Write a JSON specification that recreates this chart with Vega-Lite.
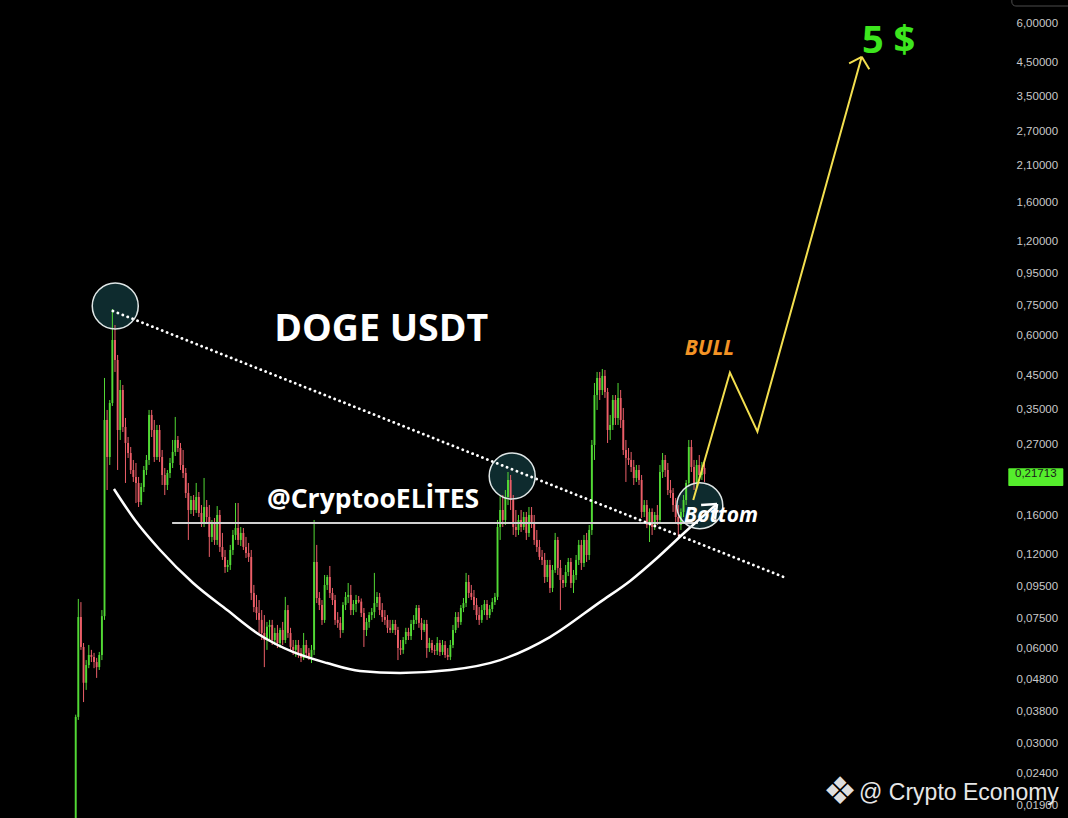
{
"$schema":"https://vega.github.io/schema/vega-lite/v6.json",
"width":1005,"height":818,
"autosize":{"type":"none"},
"padding":{"left":0,"top":0,"right":63,"bottom":0},
"background":"#000000",
"config":{"view":{"stroke":null}},
"resolve":{"axis":{"y":"independent","x":"independent"}},
"datasets":{
"candles":[
{"i":0,"o":0.0078,"h":0.037,"l":0.0072,"c":0.0364},
{"i":1,"o":0.0364,"h":0.0867,"l":0.0356,"c":0.0759},
{"i":2,"o":0.0759,"h":0.0847,"l":0.0596,"c":0.0609},
{"i":3,"o":0.0609,"h":0.0627,"l":0.0406,"c":0.0468},
{"i":4,"o":0.0468,"h":0.0553,"l":0.0444,"c":0.0533},
{"i":5,"o":0.0533,"h":0.0618,"l":0.0521,"c":0.0574},
{"i":6,"o":0.0574,"h":0.0596,"l":0.0545,"c":0.0566},
{"i":7,"o":0.0566,"h":0.0583,"l":0.0521,"c":0.0545},
{"i":8,"o":0.0545,"h":0.0562,"l":0.0485,"c":0.0525},
{"i":9,"o":0.0525,"h":0.0587,"l":0.0514,"c":0.0574},
{"i":10,"o":0.0574,"h":0.0799,"l":0.0553,"c":0.0764},
{"i":11,"o":0.0764,"h":0.4406,"l":0.0743,"c":0.3235},
{"i":12,"o":0.3235,"h":0.3482,"l":0.1932,"c":0.2464},
{"i":13,"o":0.2464,"h":0.3747,"l":0.2323,"c":0.3665},
{"i":14,"o":0.3665,"h":0.7318,"l":0.3585,"c":0.5826},
{"i":15,"o":0.5826,"h":0.6506,"l":0.4605,"c":0.5029},
{"i":16,"o":0.5029,"h":0.5218,"l":0.2239,"c":0.3005},
{"i":17,"o":0.3005,"h":0.4341,"l":0.2792,"c":0.4033},
{"i":18,"o":0.4033,"h":0.4184,"l":0.2961,"c":0.3073},
{"i":19,"o":0.3073,"h":0.3283,"l":0.2035,"c":0.2731},
{"i":20,"o":0.2731,"h":0.2854,"l":0.2446,"c":0.2537},
{"i":21,"o":0.2537,"h":0.2652,"l":0.2174,"c":0.2239},
{"i":22,"o":0.2239,"h":0.241,"l":0.205,"c":0.2127},
{"i":23,"o":0.2127,"h":0.2357,"l":0.1756,"c":0.2035},
{"i":24,"o":0.2035,"h":0.2127,"l":0.1705,"c":0.1769},
{"i":25,"o":0.1769,"h":0.2035,"l":0.173,"c":0.1976},
{"i":26,"o":0.1976,"h":0.2306,"l":0.1904,"c":0.2239},
{"i":27,"o":0.2239,"h":0.25,"l":0.2158,"c":0.241},
{"i":28,"o":0.241,"h":0.3482,"l":0.2323,"c":0.3356},
{"i":29,"o":0.3356,"h":0.3482,"l":0.2854,"c":0.3005},
{"i":30,"o":0.3005,"h":0.3235,"l":0.2375,"c":0.2464},
{"i":31,"o":0.2464,"h":0.3118,"l":0.241,"c":0.3005},
{"i":32,"o":0.3005,"h":0.3118,"l":0.2375,"c":0.2464},
{"i":33,"o":0.2464,"h":0.2594,"l":0.2005,"c":0.2158},
{"i":34,"o":0.2158,"h":0.2272,"l":0.1862,"c":0.2005},
{"i":35,"o":0.2005,"h":0.2239,"l":0.1932,"c":0.219},
{"i":36,"o":0.219,"h":0.2446,"l":0.2111,"c":0.2357},
{"i":37,"o":0.2357,"h":0.2792,"l":0.2272,"c":0.2556},
{"i":38,"o":0.2556,"h":0.3307,"l":0.2482,"c":0.2792},
{"i":39,"o":0.2792,"h":0.2875,"l":0.2556,"c":0.2632},
{"i":40,"o":0.2632,"h":0.2731,"l":0.2239,"c":0.2323},
{"i":41,"o":0.2323,"h":0.2594,"l":0.2111,"c":0.219},
{"i":42,"o":0.219,"h":0.2272,"l":0.1822,"c":0.189},
{"i":43,"o":0.189,"h":0.2035,"l":0.1338,"c":0.1668},
{"i":44,"o":0.1668,"h":0.1849,"l":0.162,"c":0.1795},
{"i":45,"o":0.1795,"h":0.1862,"l":0.1596,"c":0.1668},
{"i":46,"o":0.1668,"h":0.2035,"l":0.1632,"c":0.1835},
{"i":47,"o":0.1835,"h":0.1904,"l":0.1584,"c":0.1632},
{"i":48,"o":0.1632,"h":0.173,"l":0.1472,"c":0.1516},
{"i":49,"o":0.1516,"h":0.2111,"l":0.1472,"c":0.1705},
{"i":50,"o":0.1705,"h":0.1795,"l":0.1527,"c":0.1584},
{"i":51,"o":0.1584,"h":0.173,"l":0.1181,"c":0.1368},
{"i":52,"o":0.1368,"h":0.155,"l":0.1318,"c":0.1516},
{"i":53,"o":0.1516,"h":0.1573,"l":0.129,"c":0.1338},
{"i":54,"o":0.1338,"h":0.1717,"l":0.129,"c":0.1608},
{"i":55,"o":0.1608,"h":0.1668,"l":0.1225,"c":0.1271},
{"i":56,"o":0.1271,"h":0.1409,"l":0.1155,"c":0.1181},
{"i":57,"o":0.1181,"h":0.1243,"l":0.105,"c":0.1097},
{"i":58,"o":0.1097,"h":0.1155,"l":0.1057,"c":0.1113},
{"i":59,"o":0.1113,"h":0.129,"l":0.1073,"c":0.1243},
{"i":60,"o":0.1243,"h":0.144,"l":0.1198,"c":0.1388},
{"i":61,"o":0.1388,"h":0.1756,"l":0.1338,"c":0.1461},
{"i":62,"o":0.1461,"h":0.1756,"l":0.129,"c":0.1338},
{"i":63,"o":0.1338,"h":0.1472,"l":0.128,"c":0.1409},
{"i":64,"o":0.1409,"h":0.1461,"l":0.1243,"c":0.1271},
{"i":65,"o":0.1271,"h":0.1368,"l":0.1172,"c":0.1216},
{"i":66,"o":0.1216,"h":0.1309,"l":0.1138,"c":0.1181},
{"i":67,"o":0.1181,"h":0.1243,"l":0.086,"c":0.0906},
{"i":68,"o":0.0906,"h":0.0961,"l":0.0787,"c":0.0817},
{"i":69,"o":0.0817,"h":0.0893,"l":0.0743,"c":0.0782},
{"i":70,"o":0.0782,"h":0.086,"l":0.0675,"c":0.0743},
{"i":71,"o":0.0743,"h":0.0799,"l":0.0641,"c":0.0675},
{"i":72,"o":0.0675,"h":0.077,"l":0.0525,"c":0.0641},
{"i":73,"o":0.0641,"h":0.0732,"l":0.0596,"c":0.0706},
{"i":74,"o":0.0706,"h":0.0743,"l":0.0641,"c":0.0716},
{"i":75,"o":0.0716,"h":0.0743,"l":0.0618,"c":0.0641},
{"i":76,"o":0.0641,"h":0.0701,"l":0.0618,"c":0.0675},
{"i":77,"o":0.0675,"h":0.0716,"l":0.0604,"c":0.0627},
{"i":78,"o":0.0627,"h":0.0701,"l":0.0604,"c":0.069},
{"i":79,"o":0.069,"h":0.0732,"l":0.0618,"c":0.0641},
{"i":80,"o":0.0641,"h":0.088,"l":0.0627,"c":0.0799},
{"i":81,"o":0.0799,"h":0.0829,"l":0.0651,"c":0.0675},
{"i":82,"o":0.0675,"h":0.0701,"l":0.0587,"c":0.0609},
{"i":83,"o":0.0609,"h":0.0641,"l":0.0574,"c":0.0596},
{"i":84,"o":0.0596,"h":0.0641,"l":0.0566,"c":0.0618},
{"i":85,"o":0.0618,"h":0.0641,"l":0.0562,"c":0.0583},
{"i":86,"o":0.0583,"h":0.0604,"l":0.0545,"c":0.0562},
{"i":87,"o":0.0562,"h":0.0675,"l":0.0553,"c":0.0618},
{"i":88,"o":0.0618,"h":0.0641,"l":0.0566,"c":0.0583},
{"i":89,"o":0.0583,"h":0.0604,"l":0.0553,"c":0.0566},
{"i":90,"o":0.0566,"h":0.0618,"l":0.0541,"c":0.0596},
{"i":91,"o":0.0596,"h":0.155,"l":0.0574,"c":0.1138},
{"i":92,"o":0.1138,"h":0.129,"l":0.0841,"c":0.0873},
{"i":93,"o":0.0873,"h":0.0912,"l":0.0799,"c":0.0829},
{"i":94,"o":0.0829,"h":0.086,"l":0.0716,"c":0.0743},
{"i":95,"o":0.0743,"h":0.1034,"l":0.0727,"c":0.0961},
{"i":96,"o":0.0961,"h":0.1034,"l":0.0926,"c":0.1019},
{"i":97,"o":0.1019,"h":0.1105,"l":0.0873,"c":0.0906},
{"i":98,"o":0.0906,"h":0.094,"l":0.0829,"c":0.086},
{"i":99,"o":0.086,"h":0.0893,"l":0.0716,"c":0.0743},
{"i":100,"o":0.0743,"h":0.0787,"l":0.0701,"c":0.0727},
{"i":101,"o":0.0727,"h":0.0759,"l":0.0651,"c":0.069},
{"i":102,"o":0.069,"h":0.0847,"l":0.0675,"c":0.0829},
{"i":103,"o":0.0829,"h":0.0912,"l":0.0799,"c":0.088},
{"i":104,"o":0.088,"h":0.0975,"l":0.0841,"c":0.0893},
{"i":105,"o":0.0893,"h":0.0961,"l":0.077,"c":0.0799},
{"i":106,"o":0.0799,"h":0.086,"l":0.077,"c":0.0835},
{"i":107,"o":0.0835,"h":0.0893,"l":0.0787,"c":0.086},
{"i":108,"o":0.086,"h":0.0886,"l":0.084,"c":0.085},
{"i":109,"o":0.085,"h":0.087,"l":0.0759,"c":0.0782},
{"i":110,"o":0.0782,"h":0.0811,"l":0.0609,"c":0.069},
{"i":111,"o":0.069,"h":0.0753,"l":0.066,"c":0.0732},
{"i":112,"o":0.0732,"h":0.0787,"l":0.0701,"c":0.077},
{"i":113,"o":0.077,"h":0.0811,"l":0.0743,"c":0.0787},
{"i":114,"o":0.0787,"h":0.105,"l":0.0753,"c":0.0841},
{"i":115,"o":0.0841,"h":0.0912,"l":0.0817,"c":0.088},
{"i":116,"o":0.088,"h":0.0906,"l":0.077,"c":0.0799},
{"i":117,"o":0.0799,"h":0.0841,"l":0.0732,"c":0.0759},
{"i":118,"o":0.0759,"h":0.0799,"l":0.0716,"c":0.0743},
{"i":119,"o":0.0743,"h":0.077,"l":0.0675,"c":0.0701},
{"i":120,"o":0.0701,"h":0.0743,"l":0.0675,"c":0.069},
{"i":121,"o":0.069,"h":0.0743,"l":0.0675,"c":0.0721},
{"i":122,"o":0.0721,"h":0.0743,"l":0.0665,"c":0.069},
{"i":123,"o":0.069,"h":0.0706,"l":0.0553,"c":0.0604},
{"i":124,"o":0.0604,"h":0.0641,"l":0.0574,"c":0.0596},
{"i":125,"o":0.0596,"h":0.0655,"l":0.0579,"c":0.0641},
{"i":126,"o":0.0641,"h":0.0701,"l":0.0622,"c":0.068},
{"i":127,"o":0.068,"h":0.0701,"l":0.0641,"c":0.066},
{"i":128,"o":0.066,"h":0.0743,"l":0.0641,"c":0.0721},
{"i":129,"o":0.0721,"h":0.077,"l":0.069,"c":0.0743},
{"i":130,"o":0.0743,"h":0.0829,"l":0.0721,"c":0.0811},
{"i":131,"o":0.0811,"h":0.0829,"l":0.0701,"c":0.0727},
{"i":132,"o":0.0727,"h":0.0753,"l":0.0641,"c":0.069},
{"i":133,"o":0.069,"h":0.0743,"l":0.068,"c":0.0721},
{"i":134,"o":0.0721,"h":0.0743,"l":0.0562,"c":0.0604},
{"i":135,"o":0.0604,"h":0.0651,"l":0.0587,"c":0.0627},
{"i":136,"o":0.0627,"h":0.0641,"l":0.0583,"c":0.0596},
{"i":137,"o":0.0596,"h":0.0618,"l":0.0574,"c":0.0592},
{"i":138,"o":0.0592,"h":0.0655,"l":0.0574,"c":0.0627},
{"i":139,"o":0.0627,"h":0.0641,"l":0.057,"c":0.0587},
{"i":140,"o":0.0587,"h":0.0641,"l":0.0574,"c":0.0618},
{"i":141,"o":0.0618,"h":0.0636,"l":0.0562,"c":0.0574},
{"i":142,"o":0.0574,"h":0.0604,"l":0.0553,"c":0.0566},
{"i":143,"o":0.0566,"h":0.0641,"l":0.0553,"c":0.0618},
{"i":144,"o":0.0618,"h":0.0716,"l":0.0604,"c":0.069},
{"i":145,"o":0.069,"h":0.0787,"l":0.0675,"c":0.0759},
{"i":146,"o":0.0759,"h":0.0787,"l":0.0701,"c":0.0732},
{"i":147,"o":0.0732,"h":0.0829,"l":0.0716,"c":0.0811},
{"i":148,"o":0.0811,"h":0.0873,"l":0.0787,"c":0.0841},
{"i":149,"o":0.0841,"h":0.105,"l":0.0817,"c":0.0982},
{"i":150,"o":0.0982,"h":0.1034,"l":0.0873,"c":0.0906},
{"i":151,"o":0.0906,"h":0.0961,"l":0.086,"c":0.088},
{"i":152,"o":0.088,"h":0.0926,"l":0.0799,"c":0.0829},
{"i":153,"o":0.0829,"h":0.0873,"l":0.0743,"c":0.077},
{"i":154,"o":0.077,"h":0.0817,"l":0.0716,"c":0.0743},
{"i":155,"o":0.0743,"h":0.0829,"l":0.0727,"c":0.0799},
{"i":156,"o":0.0799,"h":0.086,"l":0.077,"c":0.0835},
{"i":157,"o":0.0835,"h":0.086,"l":0.0743,"c":0.077},
{"i":158,"o":0.077,"h":0.0829,"l":0.0753,"c":0.0805},
{"i":159,"o":0.0805,"h":0.0873,"l":0.0787,"c":0.0847},
{"i":160,"o":0.0847,"h":0.0906,"l":0.0829,"c":0.088},
{"i":161,"o":0.088,"h":0.155,"l":0.086,"c":0.1472},
{"i":162,"o":0.1472,"h":0.1862,"l":0.1338,"c":0.1668},
{"i":163,"o":0.1668,"h":0.1862,"l":0.1472,"c":0.155},
{"i":164,"o":0.155,"h":0.1932,"l":0.1494,"c":0.1835},
{"i":165,"o":0.1835,"h":0.2206,"l":0.173,"c":0.208},
{"i":166,"o":0.208,"h":0.2158,"l":0.1668,"c":0.1795},
{"i":167,"o":0.1795,"h":0.1862,"l":0.1388,"c":0.1472},
{"i":168,"o":0.1472,"h":0.1668,"l":0.1368,"c":0.144},
{"i":169,"o":0.144,"h":0.1608,"l":0.1388,"c":0.155},
{"i":170,"o":0.155,"h":0.1668,"l":0.1419,"c":0.1472},
{"i":171,"o":0.1472,"h":0.1644,"l":0.144,"c":0.1584},
{"i":172,"o":0.1584,"h":0.1644,"l":0.1338,"c":0.1409},
{"i":173,"o":0.1409,"h":0.1705,"l":0.1368,"c":0.1608},
{"i":174,"o":0.1608,"h":0.1705,"l":0.1461,"c":0.1527},
{"i":175,"o":0.1527,"h":0.1608,"l":0.129,"c":0.1338},
{"i":176,"o":0.1338,"h":0.144,"l":0.1225,"c":0.1271},
{"i":177,"o":0.1271,"h":0.1338,"l":0.1155,"c":0.1181},
{"i":178,"o":0.1181,"h":0.1243,"l":0.1113,"c":0.1155},
{"i":179,"o":0.1155,"h":0.1216,"l":0.0975,"c":0.1019},
{"i":180,"o":0.1019,"h":0.1155,"l":0.0982,"c":0.1113},
{"i":181,"o":0.1113,"h":0.1155,"l":0.0906,"c":0.094},
{"i":182,"o":0.094,"h":0.1113,"l":0.0912,"c":0.1073},
{"i":183,"o":0.1073,"h":0.1409,"l":0.105,"c":0.1338},
{"i":184,"o":0.1338,"h":0.1368,"l":0.1034,"c":0.1089},
{"i":185,"o":0.1089,"h":0.1155,"l":0.0799,"c":0.0997},
{"i":186,"o":0.0997,"h":0.1034,"l":0.094,"c":0.0975},
{"i":187,"o":0.0975,"h":0.1113,"l":0.0947,"c":0.1057},
{"i":188,"o":0.1057,"h":0.1172,"l":0.1026,"c":0.1138},
{"i":189,"o":0.1138,"h":0.1172,"l":0.094,"c":0.0975},
{"i":190,"o":0.0975,"h":0.1073,"l":0.0906,"c":0.1034},
{"i":191,"o":0.1034,"h":0.1198,"l":0.0997,"c":0.1155},
{"i":192,"o":0.1155,"h":0.1338,"l":0.1113,"c":0.129},
{"i":193,"o":0.129,"h":0.1338,"l":0.1073,"c":0.113},
{"i":194,"o":0.113,"h":0.1388,"l":0.1097,"c":0.1338},
{"i":195,"o":0.1338,"h":0.1409,"l":0.1138,"c":0.1198},
{"i":196,"o":0.1198,"h":0.1494,"l":0.1155,"c":0.144},
{"i":197,"o":0.144,"h":0.2792,"l":0.1388,"c":0.2691},
{"i":198,"o":0.2691,"h":0.4246,"l":0.241,"c":0.3886},
{"i":199,"o":0.3886,"h":0.4605,"l":0.3482,"c":0.4406},
{"i":200,"o":0.4406,"h":0.4605,"l":0.3747,"c":0.4033},
{"i":201,"o":0.4033,"h":0.4707,"l":0.3886,"c":0.4473},
{"i":202,"o":0.4473,"h":0.4673,"l":0.3805,"c":0.3974},
{"i":203,"o":0.3974,"h":0.4093,"l":0.2731,"c":0.3005},
{"i":204,"o":0.3005,"h":0.3356,"l":0.2792,"c":0.3118},
{"i":205,"o":0.3118,"h":0.3886,"l":0.3005,"c":0.3747},
{"i":206,"o":0.3747,"h":0.3886,"l":0.3118,"c":0.3283},
{"i":207,"o":0.3283,"h":0.4246,"l":0.3118,"c":0.3802},
{"i":208,"o":0.3802,"h":0.4033,"l":0.305,"c":0.3235},
{"i":209,"o":0.3235,"h":0.3533,"l":0.25,"c":0.2594},
{"i":210,"o":0.2594,"h":0.2792,"l":0.205,"c":0.2446},
{"i":211,"o":0.2446,"h":0.2632,"l":0.2323,"c":0.241},
{"i":212,"o":0.241,"h":0.2556,"l":0.2206,"c":0.2289},
{"i":213,"o":0.2289,"h":0.241,"l":0.2005,"c":0.2111},
{"i":214,"o":0.2111,"h":0.2323,"l":0.205,"c":0.2239},
{"i":215,"o":0.2239,"h":0.2323,"l":0.2005,"c":0.208},
{"i":216,"o":0.208,"h":0.2158,"l":0.1573,"c":0.1644},
{"i":217,"o":0.1644,"h":0.1795,"l":0.1584,"c":0.173},
{"i":218,"o":0.173,"h":0.1795,"l":0.146,"c":0.1494},
{"i":219,"o":0.1494,"h":0.1688,"l":0.1318,"c":0.1644},
{"i":220,"o":0.1644,"h":0.1688,"l":0.1388,"c":0.1472},
{"i":221,"o":0.1472,"h":0.1644,"l":0.144,"c":0.1608},
{"i":222,"o":0.1608,"h":0.173,"l":0.1494,"c":0.155},
{"i":223,"o":0.155,"h":0.2323,"l":0.1516,"c":0.2206},
{"i":224,"o":0.2206,"h":0.2537,"l":0.2111,"c":0.241},
{"i":225,"o":0.241,"h":0.25,"l":0.2127,"c":0.2239},
{"i":226,"o":0.2239,"h":0.2357,"l":0.1862,"c":0.1932},
{"i":227,"o":0.1932,"h":0.208,"l":0.1822,"c":0.189},
{"i":228,"o":0.189,"h":0.1961,"l":0.1644,"c":0.173},
{"i":229,"o":0.173,"h":0.1822,"l":0.1527,"c":0.1584},
{"i":230,"o":0.1584,"h":0.173,"l":0.1368,"c":0.1494},
{"i":231,"o":0.1494,"h":0.1688,"l":0.144,"c":0.1644},
{"i":232,"o":0.1644,"h":0.1862,"l":0.1584,"c":0.1795},
{"i":233,"o":0.1795,"h":0.208,"l":0.173,"c":0.2035},
{"i":234,"o":0.2035,"h":0.2792,"l":0.1976,"c":0.2652},
{"i":235,"o":0.2652,"h":0.2792,"l":0.2206,"c":0.2289},
{"i":236,"o":0.2289,"h":0.241,"l":0.1932,"c":0.2035},
{"i":237,"o":0.2035,"h":0.241,"l":0.1961,"c":0.2323},
{"i":238,"o":0.2323,"h":0.25,"l":0.2111,"c":0.2158},
{"i":239,"o":0.2158,"h":0.2375,"l":0.208,"c":0.2272},
{"i":240,"o":0.2272,"h":0.2357,"l":0.205,"c":0.21713}
],
"hline":[{"i":36.8,"v":0.1516},{"i":237.5,"v":0.1516}],
"trend":[{"i":14.2,"v":0.7212},{"i":271.1,"v":0.1012}],
"cup":[{"i":14.6,"v":0.1947},{"i":22.6,"v":0.155},{"i":32.2,"v":0.1243},{"i":44.8,"v":0.0975},{"i":57.8,"v":0.0799},{"i":70.3,"v":0.0665},{"i":82.9,"v":0.0587},{"i":95.9,"v":0.0541},{"i":108.5,"v":0.051},{"i":123.8,"v":0.0503},{"i":142.9,"v":0.0514},{"i":162,"v":0.0553},{"i":181,"v":0.0655},{"i":200.1,"v":0.0847},{"i":211.6,"v":0.099},{"i":221.9,"v":0.1172},{"i":232.6,"v":0.1419},{"i":244.8,"v":0.1743}],
"cuparrow":[{"g":1,"i":238.7,"v":0.173},{"g":1,"i":244.8,"v":0.1743},{"g":2,"i":244.0,"v":0.1561},{"g":2,"i":244.8,"v":0.1743}],
"circles":[{"i":15.1,"v":0.748},{"i":166.6,"v":0.2142},{"i":238.2,"v":0.1721}],
"yellow":[{"i":235.7,"v":0.1795},{"i":249.7,"v":0.4585},{"i":260.2,"v":0.2967},{"i":300.0,"v":4.68}],
"yarrow":[{"g":1,"i":295.2,"v":4.46},{"g":1,"i":300.0,"v":4.68},{"g":2,"i":302.9,"v":4.27},{"g":2,"i":300.0,"v":4.68}]
},
"layer":[
{"data":{"name":"circles"},"mark":{"type":"point","shape":"circle","filled":true,"size":2116,"opacity":1,"strokeWidth":0},
 "encoding":{"x":{"field":"i","type":"quantitative","scale":{"domain":[-28.89,354.69],"nice":false,"zero":false},"axis":null},
 "y":{"field":"v","type":"quantitative","scale":{"type":"log","domain":[0.017302,7.107],"nice":false},
   "axis":{"orient":"right","values":[6,4.5,3.5,2.7,2.1,1.6,1.2,0.95,0.75,0.6,0.45,0.35,0.27,0.16,0.12,0.095,0.075,0.06,0.048,0.038,0.03,0.024,0.019],
   "labelExpr":"replace(format(datum.value,'.5f'),'.',',')","domain":false,"ticks":false,"grid":false,"labelPadding":11,
   "labelFont":"Liberation Sans","labelFontSize":11.5,"labelColor":"#c9c9c9","title":null,"labelAlign":"left","labelBaseline":"middle","labelOverlap":false,"labelBound":false}},
 "color":{"value":"#0e2b2e"}}},
{"data":{"name":"candles"},"mark":{"type":"rule","strokeWidth":1},
 "encoding":{"x":{"field":"i","type":"quantitative","axis":null},"y":{"field":"l","type":"quantitative","axis":null},"y2":{"field":"h"},
 "color":{"condition":{"test":"datum.c >= datum.o","value":"#52d935"},"value":"#eb5e68"}}},
{"data":{"name":"candles"},"mark":{"type":"rule","strokeWidth":1.9},
 "encoding":{"x":{"field":"i","type":"quantitative","axis":null},"y":{"field":"o","type":"quantitative","axis":null},"y2":{"field":"c"},
 "color":{"condition":{"test":"datum.c >= datum.o","value":"#52d935"},"value":"#eb5e68"}}},
{"data":{"name":"hline"},"mark":{"type":"line","color":"#d0d0d0","strokeWidth":2},
 "encoding":{"x":{"field":"i","type":"quantitative","axis":null},"y":{"field":"v","type":"quantitative","axis":null}}},
{"data":{"name":"trend"},"mark":{"type":"line","color":"#ffffff","strokeWidth":2.8,"strokeDash":[0.1,5.2],"strokeCap":"round"},
 "encoding":{"x":{"field":"i","type":"quantitative","axis":null},"y":{"field":"v","type":"quantitative","axis":null}}},
{"data":{"name":"cup"},"mark":{"type":"line","color":"#ffffff","strokeWidth":2.5,"interpolate":"monotone"},
 "encoding":{"x":{"field":"i","type":"quantitative","axis":null},"y":{"field":"v","type":"quantitative","axis":null}}},
{"data":{"name":"cuparrow"},"mark":{"type":"line","color":"#ffffff","strokeWidth":2.5},
 "encoding":{"x":{"field":"i","type":"quantitative","axis":null},"y":{"field":"v","type":"quantitative","axis":null},"detail":{"field":"g"}}},
{"data":{"name":"circles"},"mark":{"type":"point","shape":"circle","filled":false,"size":2116,"strokeWidth":1.5,"opacity":1},
 "encoding":{"x":{"field":"i","type":"quantitative","axis":null},"y":{"field":"v","type":"quantitative","axis":null},"color":{"value":"#dfe6e6"}}},
{"data":{"name":"yellow"},"mark":{"type":"line","color":"#f3df4f","strokeWidth":2},
 "encoding":{"x":{"field":"i","type":"quantitative","axis":null},"y":{"field":"v","type":"quantitative","axis":null}}},
{"data":{"name":"yarrow"},"mark":{"type":"line","color":"#f3df4f","strokeWidth":2},
 "encoding":{"x":{"field":"i","type":"quantitative","axis":null},"y":{"field":"v","type":"quantitative","axis":null},"detail":{"field":"g"}}},
{"data":{"values":[{"t":"DOGE USDT","i":116.6,"v":0.5783}]},"mark":{"type":"text","font":"Open Sans","fontWeight":"bold","fontSize":37.5,"color":"#ffffff","align":"center","baseline":"alphabetic"},
 "encoding":{"x":{"field":"i","type":"quantitative","axis":null},"y":{"field":"v","type":"quantitative","axis":null},"text":{"field":"t"}}},
{"data":{"values":[{"t":"@CryptooELİTES","i":113.5,"v":0.1692}]},"mark":{"type":"text","font":"Open Sans","fontWeight":"bold","fontSize":26.5,"color":"#ffffff","align":"center","baseline":"alphabetic"},
 "encoding":{"x":{"field":"i","type":"quantitative","axis":null},"y":{"field":"v","type":"quantitative","axis":null},"text":{"field":"t"}}},
{"data":{"values":[{"t":"BULL","i":241.9,"v":0.5218}]},"mark":{"type":"text","font":"Open Sans","fontWeight":"bold","fontStyle":"italic","fontSize":21,"color":"#f39325","align":"center","baseline":"alphabetic"},
 "encoding":{"x":{"field":"i","type":"quantitative","axis":null},"y":{"field":"v","type":"quantitative","axis":null},"text":{"field":"t"}}},
{"data":{"values":[{"t":"Bottom","i":246.3,"v":0.1527}]},"mark":{"type":"text","font":"Open Sans","fontWeight":"bold","fontStyle":"italic","fontSize":21,"color":"#ffffff","align":"center","baseline":"alphabetic"},
 "encoding":{"x":{"field":"i","type":"quantitative","axis":null},"y":{"field":"v","type":"quantitative","axis":null},"text":{"field":"t"}}},
{"data":{"values":[{"t":"5 $","i":300.1,"v":4.8}]},"mark":{"type":"text","font":"Open Sans","fontWeight":"bold","fontSize":38,"color":"#3de61e","align":"left","baseline":"alphabetic"},
 "encoding":{"x":{"field":"i","type":"quantitative","axis":null},"y":{"field":"v","type":"quantitative","axis":null},"text":{"field":"t"}}},
{"data":{"values":[{"t":"@ Crypto Economy","i":299.0,"v":0.01975}]},"mark":{"type":"text","font":"Liberation Sans","fontSize":23,"color":"#e6e6e6","align":"left","baseline":"alphabetic"},
 "encoding":{"x":{"field":"i","type":"quantitative","axis":null},"y":{"field":"v","type":"quantitative","axis":null},"text":{"field":"t"}}},
{"data":{"values":[{"t":"❖","i":291.7,"v":0.0208}]},"mark":{"type":"text","font":"DejaVu Sans","fontSize":38,"color":"#dedede","align":"center","baseline":"middle"},
 "encoding":{"x":{"field":"i","type":"quantitative","axis":null},"y":{"field":"v","type":"quantitative","axis":null},"text":{"field":"t"}}},
{"data":{"values":[{"i":357.3,"i2":382,"v":6.8,"v2":9}]},"mark":{"type":"rect","fill":null,"stroke":"#4d4d4d","strokeWidth":1,"cornerRadius":4},
 "encoding":{"x":{"field":"i","type":"quantitative","axis":null},"x2":{"field":"i2"},"y":{"field":"v","type":"quantitative","axis":null},"y2":{"field":"v2"}}},
{"data":{"values":[{"i":355.95,"i2":376.95,"v":0.2267,"v2":0.199}]},"mark":{"type":"rect","color":"#55ee2c","cornerRadius":1},
 "encoding":{"x":{"field":"i","type":"quantitative","axis":null},"x2":{"field":"i2"},"y":{"field":"v","type":"quantitative","axis":null},"y2":{"field":"v2"}}},
{"data":{"values":[{"t":"0,21713","i":358.5,"v":0.21713}]},"mark":{"type":"text","font":"Liberation Sans","fontSize":11.5,"color":"#1b1b1b","align":"left","baseline":"middle"},
 "encoding":{"x":{"field":"i","type":"quantitative","axis":null},"y":{"field":"v","type":"quantitative","axis":null},"text":{"field":"t"}}}
]
}
